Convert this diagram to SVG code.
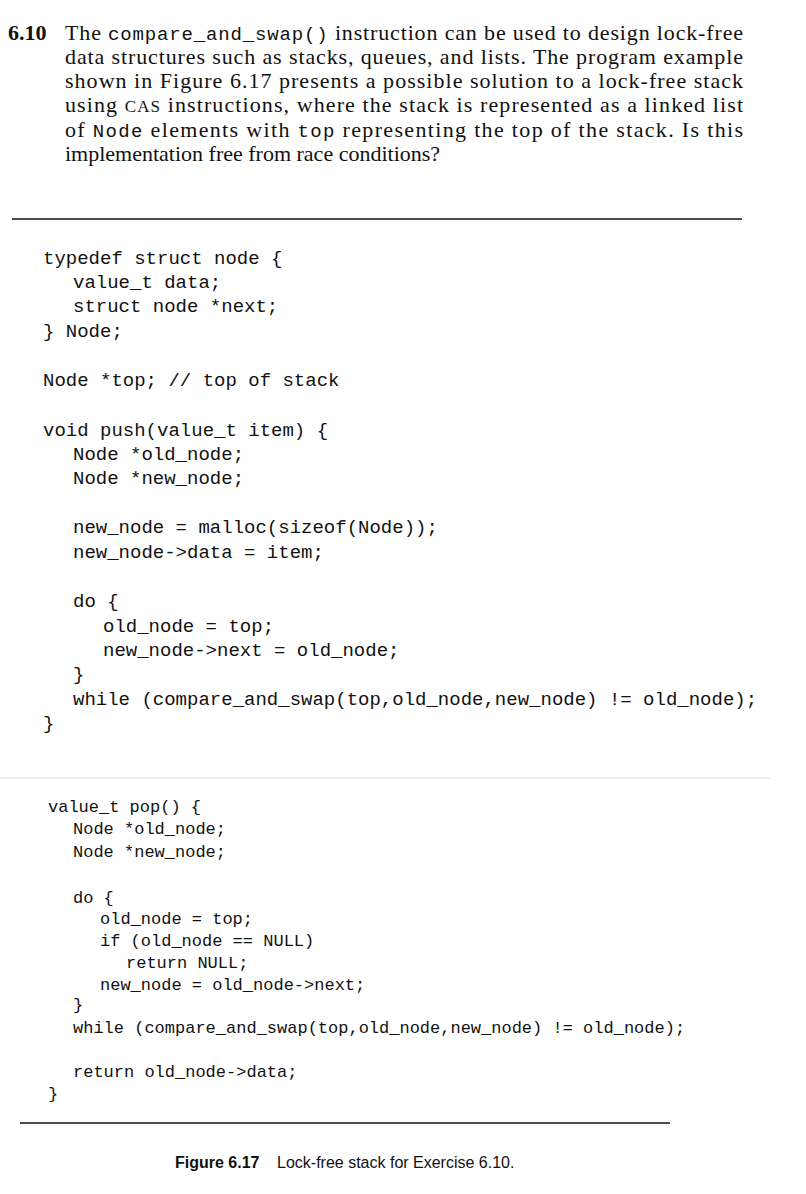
<svg xmlns="http://www.w3.org/2000/svg" width="806" height="1194" viewBox="0 0 806 1194">
<style>
.p{font-family:"Liberation Serif",serif;font-size:22px;fill:#111}
.m{font-family:"Liberation Mono",monospace;fill:#111}
.c1{font-size:19px}
.c2{font-size:17px}
.cap{font-family:"Liberation Sans",sans-serif;font-size:16px;fill:#111}
</style>
<rect width="806" height="1194" fill="#fff"/>
<g id="question">
<text class="p" x="8" y="40" font-weight="bold">6.10</text>
<text class="p" x="65" y="40" textLength="678" lengthAdjust="spacing">The <tspan class="m" font-size="19">compare_and_swap()</tspan> instruction can be used to design lock-free</text>
<text class="p" x="65" y="64" textLength="678" lengthAdjust="spacing">data structures such as stacks, queues, and lists. The program example</text>
<text class="p" x="65" y="88" textLength="678" lengthAdjust="spacing">shown in Figure 6.17 presents a possible solution to a lock-free stack</text>
<text class="p" x="65" y="112" textLength="678" lengthAdjust="spacing">using <tspan font-size="17">CAS</tspan> instructions, where the stack is represented as a linked list</text>
<text class="p" x="65" y="137" textLength="678" lengthAdjust="spacing">of <tspan class="m" font-size="19">Node</tspan> elements with <tspan class="m" font-size="19">top</tspan> representing the top of the stack. Is this</text>
<text class="p" x="65" y="161">implementation free from race conditions?</text>
</g>
<g id="rules">
<line x1="12" y1="219" x2="742" y2="219" stroke="#111" stroke-width="1.5"/>
<line x1="0" y1="778" x2="770" y2="778" stroke="#ddd" stroke-width="1"/>
<line x1="20" y1="1123" x2="670" y2="1123" stroke="#111" stroke-width="1.5"/>
</g>
<g id="push" class="m c1" xml:space="preserve">
<text class="m c1" x="43" y="264">typedef struct node {</text>
<text class="m c1" x="73" y="288">value_t data;</text>
<text class="m c1" x="73" y="312">struct node *next;</text>
<text class="m c1" x="43" y="337">} Node;</text>
<text class="m c1" x="43" y="386">Node *top; // top of stack</text>
<text class="m c1" x="43" y="436">void push(value_t item) {</text>
<text class="m c1" x="73" y="460">Node *old_node;</text>
<text class="m c1" x="73" y="484">Node *new_node;</text>
<text class="m c1" x="73" y="533">new_node = malloc(sizeof(Node));</text>
<text class="m c1" x="73" y="558">new_node-&gt;data = item;</text>
<text class="m c1" x="73" y="607">do {</text>
<text class="m c1" x="103" y="632">old_node = top;</text>
<text class="m c1" x="103" y="656">new_node-&gt;next = old_node;</text>
<text class="m c1" x="73" y="680">}</text>
<text class="m c1" x="73" y="705">while (compare_and_swap(top,old_node,new_node) != old_node);</text>
<text class="m c1" x="43" y="729">}</text>
</g>
<g id="pop">
<text class="m c2" x="48" y="812">value_t pop() {</text>
<text class="m c2" x="73" y="834">Node *old_node;</text>
<text class="m c2" x="73" y="857">Node *new_node;</text>
<text class="m c2" x="73" y="903">do {</text>
<text class="m c2" x="100" y="924">old_node = top;</text>
<text class="m c2" x="100" y="946">if (old_node == NULL)</text>
<text class="m c2" x="126" y="968">return NULL;</text>
<text class="m c2" x="100" y="990">new_node = old_node-&gt;next;</text>
<text class="m c2" x="73" y="1010">}</text>
<text class="m c2" x="73" y="1033">while (compare_and_swap(top,old_node,new_node) != old_node);</text>
<text class="m c2" x="73" y="1077">return old_node-&gt;data;</text>
<text class="m c2" x="48" y="1099">}</text>
</g>
<g id="caption">
<text class="cap" x="175" y="1168"><tspan font-weight="bold">Figure 6.17</tspan><tspan x="277">Lock-free stack for Exercise 6.10.</tspan></text>
</g>
</svg>
